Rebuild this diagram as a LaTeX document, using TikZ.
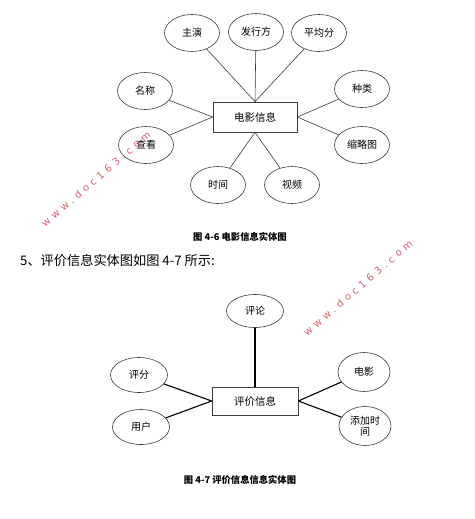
\documentclass[tikz,border=0pt]{standalone}
\usepackage{fontspec}
\setmainfont{Noto Sans CJK SC}
\newfontfamily\wmfont[LetterSpace=40]{DejaVu Sans}
\usetikzlibrary{shapes.geometric}
\definecolor{wmred}{RGB}{205,70,85}
\definecolor{linegray}{RGB}{60,60,60}
\tikzset{
  attr/.style={ellipse, draw=linegray, line width=0.6pt, minimum width=55pt, minimum height=37pt, inner sep=0pt, font=\fontsize{10}{11}\selectfont, align=center},
  ent/.style={rectangle, draw=linegray, line width=0.7pt, minimum width=84pt, minimum height=30pt, inner sep=0pt, font=\fontsize{10.5}{12}\selectfont},
  thinlink/.style={draw=linegray, line width=0.6pt},
  thicklink/.style={draw=black, line width=1.1pt},
  caption/.style={font=\fontsize{9.3}{11}\selectfont\bfseries, inner sep=0pt},
  watermark/.style={font=\wmfont\fontsize{10}{10}\selectfont, text=wmred, opacity=0.85, rotate=41, inner sep=0pt}
}
\begin{document}
\begin{tikzpicture}[x=1pt,y=-1pt]
\useasboundingbox (0,0) rectangle (474,519);
\fill[white] (0,0) rectangle (474,519);
% ---------- Figure 4-6 ----------
\node[ent] (movie) at (255,117) {电影信息};
\node[attr] (zhuyan) at (192,33) {主演};
\node[attr] (faxing) at (256,32) {发行方};
\node[attr] (pingjun) at (319,33) {平均分};
\node[attr] (mingcheng) at (145,91) {名称};
\node[attr] (chakan) at (146,145) {查看};
\node[attr] (zhonglei) at (362,89) {种类};
\node[attr] (suolue) at (362,145) {缩略图};
\node[attr] (shijian) at (218,185) {时间};
\node[attr] (shipin) at (292,185) {视频};
\draw[thinlink] (zhuyan) -- (movie.north);
\draw[thinlink] (faxing) -- (movie.north);
\draw[thinlink] (pingjun) -- (movie.north);
\draw[thinlink] (mingcheng) -- (movie.west);
\draw[thinlink] (chakan) -- (movie.west);
\draw[thinlink] (zhonglei) -- (movie.east);
\draw[thinlink] (suolue) -- (movie.east);
\draw[thinlink] (shijian) -- (movie.south);
\draw[thinlink] (shipin) -- (movie.south);
\node[caption] (cap1) at (240,237) {图 4-6 电影信息实体图};
\node[font=\fontsize{13.2}{15}\selectfont, anchor=west, inner sep=0pt] (para) at (20,260) {5、评价信息实体图如图 4-7 所示:};
% ---------- Figure 4-7 ----------
\node[ent, minimum width=86pt, minimum height=28pt] (review) at (255,401) {评价信息};
\node[attr, minimum width=57pt, minimum height=33pt] (pinglun) at (255,311) {评论};
\node[attr, minimum width=57pt, minimum height=35pt] (pingfen) at (139,375) {评分};
\node[attr, minimum width=57pt, minimum height=35pt] (yonghu) at (141,427) {用户};
\node[attr, minimum width=52pt, minimum height=39pt] (dianying) at (364,372) {电影};
\node[attr, minimum width=52pt, minimum height=39pt] (tianjia) at (365,426) {添加时\\间};
\draw[thicklink] (pinglun) -- (review.north);
\draw[thicklink] (pingfen) -- (review.west);
\draw[thicklink] (yonghu) -- (review.west);
\draw[thicklink] (dianying) -- (review.east);
\draw[thicklink] (tianjia) -- (review.east);
\node[caption] (cap2) at (240,480) {图 4-7 评价信息信息实体图};
% ---------- watermarks ----------
\node[watermark] (wm1) at (96,179) {www.doc163.com};
\node[watermark] (wm2) at (358,288) {www.doc163.com};
\end{tikzpicture}
\end{document}
